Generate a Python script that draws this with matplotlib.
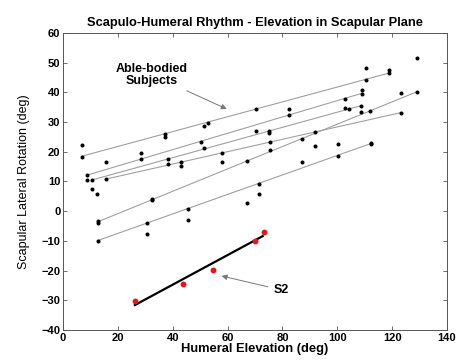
import matplotlib
matplotlib.use('Agg')
import matplotlib.pyplot as plt
import numpy as np

plt.rcParams['font.family'] = ['Liberation Sans', 'DejaVu Sans']

# able-bodied subjects: measured points
ab_x = [6.8, 6.8, 8.6, 8.6, 10.5, 15.6, 10.5, 12.5, 15.6, 12.6, 12.6, 12.6,
        28.4, 28.4, 30.7, 30.7, 32.3, 32.3, 37.2, 37.2, 38.4, 38.4, 43.0, 43.0,
        45.5, 45.5, 50.2, 51.4, 51.4, 52.7, 57.8, 57.8, 67.0, 67.0, 70.4, 70.4,
        71.5, 71.5, 75.2, 75.2, 75.4, 75.4, 82.5, 82.5, 87.0, 87.0, 91.9, 91.9,
        100.1, 100.1, 102.8, 102.8, 104.3, 108.5, 108.5, 109.0, 109.0, 110.6,
        110.6, 111.8, 112.3, 112.3, 118.8, 118.8, 123.2, 123.2, 129.1, 129.1]
ab_y = [22.3, 18.4, 12.1, 10.5, 10.5, 10.8, 7.4, 5.8, 16.6, -3.4, -4.0, -9.9,
        19.5, 17.5, -4.1, -7.8, 4.2, 3.6, 25.9, 25.1, 17.7, 15.8, 16.6, 15.2,
        0.8, -3.0, 23.4, 21.2, 28.8, 29.8, 19.6, 16.5, 16.8, 2.9, 34.3, 26.9,
        9.3, 5.7, 26.9, 26.2, 23.3, 20.5, 34.4, 32.3, 24.3, 16.5, 26.7, 21.9,
        22.6, 18.6, 37.8, 34.6, 34.5, 35.5, 33.3, 40.8, 39.5, 48.2,
        44.3, 33.8, 23.1, 22.6, 47.6, 46.4, 39.9, 33.2, 51.6, 40.2]

# able-bodied subjects: fitted lines (start / end)
fit_x0 = [6.8, 8.6, 10.5, 12.6, 12.6, 15.6]
fit_y0 = [18.5, 12.1, 10.5, -3.6, -9.9, 10.8]
fit_x1 = [118.8, 109.0, 108.5, 129.0, 112.3, 123.2]
fit_y1 = [46.5, 39.7, 35.5, 40.2, 22.8, 33.2]

# subject S2
s2_x = [26.2, 43.9, 54.8, 70.0, 73.3]
s2_y = [-30.1, -24.4, -19.7, -9.9, -6.9]
s2_fit_x = [26.2, 72.8]
s2_fit_y = [-31.6, -8.4]

fig = plt.figure(figsize=(4.74, 3.64), dpi=100)
ax = fig.add_axes([0.133, 0.0934, 0.81, 0.816])

for i in range(len(fit_x0)):
    ax.plot([fit_x0[i], fit_x1[i]], [fit_y0[i], fit_y1[i]], color='#a0a0a0', lw=0.8)
ax.plot(ab_x, ab_y, 'o', color='black', markersize=1.9)

ax.plot(s2_fit_x, s2_fit_y, color='black', lw=1.6)
ax.plot(s2_x, s2_y, 'o', color='#e8141c', markersize=3.2)

ax.annotate('Able-bodied\nSubjects', xy=(59.7, 34.4), xytext=(32.4, 45.9),
            ha='center', va='center', fontsize=9, fontweight='bold',
            linespacing=1.0,
            arrowprops=dict(arrowstyle='-|>', color='#777777', lw=0.7,
                            mutation_scale=8, shrinkA=2, shrinkB=0))
ax.annotate('S2', xy=(57.8, -21.8), xytext=(76.7, -26.5),
            ha='left', va='center', fontsize=9, fontweight='bold',
            arrowprops=dict(arrowstyle='-|>', color='#777777', lw=0.7,
                            mutation_scale=8, shrinkA=2, shrinkB=0))

ax.set_xlim(0, 140)
ax.set_ylim(-40, 60)
ax.set_xticks(np.arange(0, 141, 20))
ax.set_yticks(np.arange(-40, 61, 10))
ax.tick_params(direction='in', top=True, right=True, length=3, width=0.6,
               color='#555555', labelsize=8, pad=2)
for lab in ax.get_xticklabels() + ax.get_yticklabels():
    lab.set_fontweight('bold')
for sp in ax.spines.values():
    sp.set_color('#555555')
    sp.set_linewidth(0.7)

ax.set_title('Scapulo-Humeral Rhythm - Elevation in Scapular Plane',
             fontsize=9.3, fontweight='bold', pad=5)
ax.set_xlabel('Humeral Elevation (deg)', fontsize=9.3, fontweight='bold', labelpad=0)
ax.set_ylabel('Scapular Lateral Rotation (deg)', fontsize=9, labelpad=8)

fig.savefig('out.png', dpi=100)
